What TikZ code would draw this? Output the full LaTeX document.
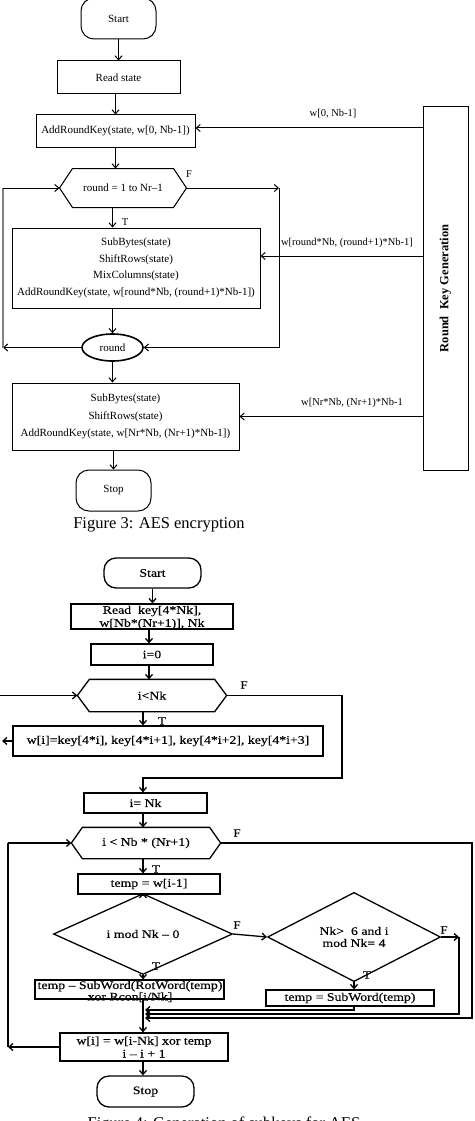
\documentclass[tikz,border=0pt]{standalone}
\usepackage{fontspec}
\setmainfont{Liberation Serif}
\newfontfamily\camf[FakeStretch=1.2,FakeBold=0.3]{Liberation Serif}
\usetikzlibrary{arrows.meta,shapes.geometric,calc}
\begin{document}
\begin{tikzpicture}[x=1pt,y=-1pt,
  every node/.style={inner sep=0pt},
  arr/.style={-{Straight Barb[length=4pt,width=7pt]}},
  box/.style={draw, rectangle, align=center},
  term/.style={draw, rectangle, rounded corners=13pt},
  t3/.style={font=\fontsize{11}{13}\selectfont},
  t4/.style={font=\camf\fontsize{11.5}{13}\selectfont, align=center},
  lab/.style={font=\fontsize{10.5}{12}\selectfont},
  lab4/.style={font=\camf\fontsize{11}{12}\selectfont}]
\fill[white] (0,0) rectangle (474,1121);
\useasboundingbox (0,0) rectangle (474,1121);

% ---------------- Figure 3 ----------------
\begin{scope}[line width=1pt]
\node[term, minimum width=75pt, minimum height=41pt, t3] (st3) at (118.5,18.5) {\raisebox{-2.5pt}{Start}};
\node[box, minimum width=123pt, minimum height=33pt, t3] (rs) at (118.5,77.5) {Read state};
\node[box, minimum width=159pt, minimum height=32pt, t3] (ark) at (115.5,131) {AddRoundKey(state, w[0, Nb-1])};
\node[box, minimum width=45pt, minimum height=363pt] (rkg) at (445.5,288.5) {};
\node[rotate=90, font=\bfseries\fontsize{12.5}{14}\selectfont] (rkgt) at (rkg.center) {Round\ \ Key Generation};
\node[minimum width=126pt, minimum height=38pt, t3] (h1) at (123,188) {round = 1 to Nr–1};
\draw (h1.west) -- ($(h1.north west)+(13,0)$) -- ($(h1.north east)+(-13,0)$) -- (h1.east) -- ($(h1.south east)+(-13,0)$) -- ($(h1.south west)+(13,0)$) -- cycle;
\node[box, minimum width=248pt, minimum height=80pt, font=\fontsize{11}{16.7}\selectfont] (body) at (136,268) {SubBytes(state)\\ShiftRows(state)\\MixColumns(state)\\AddRoundKey(state, w[round*Nb, (round+1)*Nb-1])};
\node[draw, ellipse, line width=1.6pt, minimum width=61pt, minimum height=27pt, t3] (rnd) at (112.5,347.5) {round};
\node[box, minimum width=227pt, minimum height=67pt, font=\fontsize{11}{17.5}\selectfont] (fin) at (125.5,416.5) {SubBytes(state)\\ShiftRows(state)\\AddRoundKey(state, w[Nr*Nb, (Nr+1)*Nb-1])};
\node[term, minimum width=75pt, minimum height=41pt, t3] (sp3) at (113.5,490.5) {Stop};
\node[font=\fontsize{16.5}{18}\selectfont] (cap3) at (159,525) {Figure 3: AES encryption};

\node[lab] (l1) at (333,114) {w[0, Nb-1]};
\node[lab] (l2) at (347,243) {w[round*Nb, (round+1)*Nb-1]};
\node[lab] (l3) at (352,403) {w[Nr*Nb, (Nr+1)*Nb-1};
\node[lab] (fl3) at (189,174) {F};
\node[lab] (tl3) at (125,222) {T};

\coordinate (ya) at (0,128);
\coordinate (yb) at (0,256);
\coordinate (fr) at (279,188);
\coordinate (lc) at (3,347.5);

\draw[arr] (st3.south) -- (st3.south |- rs.north);
\draw[arr] (rs.south -| ark) -- (ark.north);
\draw[arr] (ark.south) -- (ark.south |- h1.north);
\draw[arr] (h1.south -| rnd) -- (body.north -| rnd);
\draw[arr] (body.south -| rnd) -- (rnd.north);
\draw[arr] (rnd.south) -- (rnd.south |- fin.north);
\draw[arr] (fin.south -| sp3) -- (sp3.north);
\draw[arr] (rkg.west |- ya) -- (ark.east |- ya);
\draw[arr] (rkg.west |- yb) -- (body.east |- yb);
\draw[arr] (rkg.west |- fin) -- (fin.east);
\draw[arr] (h1.east) -- (fr);
\draw (fr) -- (fr |- rnd);
\draw[arr] (fr |- rnd) -- (rnd.east);
\draw[arr] (rnd.west) -- (lc);
\draw[line width=2pt, gray] (lc) -- (lc |- h1.west);
\draw[arr] (lc |- h1.west) -- (h1.west);
\end{scope}

% ---------------- Figure 4 ----------------
\begin{scope}[line width=1.3pt]
\coordinate (c4) at (143,0);
\coordinate (c4a) at (149,0);
\coordinate (ce) at (145,0);
\node[term, rounded corners=12pt, minimum width=97pt, minimum height=30pt, t4] (st4) at (152.5,573) {Start};
\node[box, minimum width=162pt, minimum height=25pt] (rd4) at (152,616.5) {};
\node[t4] (rd4t) at (152,617.5) {Read\ \ key[4*Nk],\\w[Nb*(Nr+1)], Nk};
\node[box, minimum width=122pt, minimum height=21pt, t4] (i0) at (152,654.5) {i=0};
\node[minimum width=148pt, minimum height=31pt, t4] (h2) at (152,695.5) {i<Nk};
\draw (h2.west) -- ($(h2.north west)+(12,0)$) -- ($(h2.north east)+(-12,0)$) -- (h2.east) -- ($(h2.south east)+(-12,0)$) -- ($(h2.south west)+(12,0)$) -- cycle;
\node[box, minimum width=310pt, minimum height=30pt, t4] (wk) at (168,741) {w[i]=key[4*i], key[4*i+1], key[4*i+2], key[4*i+3]};
\node[box, minimum width=123pt, minimum height=20pt, t4] (ink) at (145.5,803) {i= Nk};
\node[minimum width=148pt, minimum height=30pt, t4] (h3) at (146,843) {i < Nb * (Nr+1)};
\draw (h3.west) -- ($(h3.north west)+(11,0)$) -- ($(h3.north east)+(-11,0)$) -- (h3.east) -- ($(h3.south east)+(-11,0)$) -- ($(h3.south west)+(11,0)$) -- cycle;
\node[box, minimum width=142pt, minimum height=20pt, t4] (tmp) at (149,884) {temp = w[i-1]};
\node[draw, diamond, minimum width=179pt, minimum height=50pt, t4] (d1) at (143,934) {i mod Nk – 0};
\node[draw, diamond, minimum width=173pt, minimum height=64pt, t4, font=\camf\fontsize{11.5}{12}\selectfont] (d2) at (354,937) {Nk>\ \ 6 and i\\mod Nk= 4};
\node[box, minimum width=189pt, minimum height=19pt] (rw) at (129.5,989.5) {};
\node[t4, font=\camf\fontsize{11.5}{11.5}\selectfont] (rwt) at (130,991.5) {temp – SubWord(RotWord(temp)\\xor Rcon[i/Nk]};
\node[box, minimum width=168pt, minimum height=16pt, t4] (sw) at (350,998) {temp = SubWord(temp)};
\node[box, minimum width=168pt, minimum height=28pt, t4] (wi) at (144,1047) {w[i] = w[i-Nk] xor temp\\i – i + 1};
\node[term, rounded corners=12pt, minimum width=97pt, minimum height=31pt, t4] (sp4) at (145.5,1091.5) {Stop};
\node[font=\fontsize{16.5}{18}\selectfont, anchor=base] (cap4) at (224,1128) {Figure 4: Generation of subkeys for AES};

\node[lab4] (fa) at (244,685) {F};
\node[lab4] (ta) at (162,721) {T};
\node[lab4] (fb) at (237,833) {F};
\node[lab4] (tb) at (156,869) {T};
\node[lab4] (fc) at (237,925) {F};
\node[lab4] (fd) at (444,930) {F};
\node[lab4] (tc) at (156,966) {T};
\node[lab4] (td) at (367,975) {T};

\coordinate (f2) at (342,0);
\coordinate (y778) at (0,778);
\coordinate (f3) at (459,0);
\coordinate (f4) at (472,0);
\coordinate (y1010) at (0,1010);
\coordinate (y1014) at (0,1014);
\coordinate (y1018) at (0,1018);
\coordinate (lx0) at (2,0);
\coordinate (lxm) at (-2,0);
\coordinate (lx8) at (8,0);

\draw[arr] (st4.south) -- (st4.south |- rd4.north);
\draw[arr] (rd4.south -| c4a) -- (i0.north -| c4a);
\draw[arr] (i0.south -| c4a) -- (h2.north -| c4a);
\draw[arr] (h2.south -| c4) -- (wk.north -| c4);
\draw[arr] (h2.east) -| (f2 |- y778) -| (ink.north -| c4);
\draw[arr] (wk.west) -- (wk.west -| lx0);
\draw[arr] (h2.west -| lxm) -- (h2.west);
\draw[arr] (ink.south -| c4) -- (h3.north -| c4);
\draw[arr] (h3.south -| c4) -- (tmp.north -| c4);
\draw[arr] (tmp.south -| c4) -- (d1.north);
\draw[arr] (d1.south) -- (rw.north -| d1);
\draw[arr] (d1.east) -- (d2.west);
\draw[arr] (d2.south) -- (sw.north -| d2);
\draw[arr] (d2.east) -- (d2.east -| f3);
\draw[arr] (d2.east -| f3) |- (ce |- y1014);
\draw[arr] (h3.east) -| (f4 |- y1018) -- (ce |- y1018);
\draw[arr] (sw.south -| d2) |- (ce |- y1010);
\draw[arr] (rw.south -| c4) -- (wi.north -| c4);
\draw[arr] (wi.south -| c4) -- (sp4.north -| c4);
\draw[arr] (wi.west) -- (wi.west -| lx8);
\draw (wi.west -| lx8) -- (lx8 |- h3.west);
\draw[arr] (lx8 |- h3.west) -- (h3.west);
\end{scope}
\end{tikzpicture}
\end{document}
